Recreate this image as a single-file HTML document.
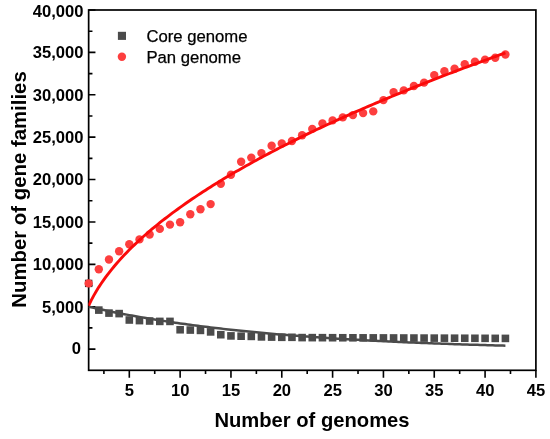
<!DOCTYPE html>
<html><head><meta charset="utf-8"><title>Pan and core genome</title>
<style>
html,body{margin:0;padding:0;background:#fff;}
svg{display:block;font-family:"Liberation Sans",Arial,sans-serif;}
.tk{font-size:16.6px;font-weight:bold;fill:#000;}
.ttl{font-size:20.2px;font-weight:bold;fill:#000;}
.lg{font-size:16.7px;fill:#000;stroke:#000;stroke-width:0.25px;}
</style></head><body>
<svg width="550" height="439" viewBox="0 0 550 439">
<rect width="550" height="439" fill="#ffffff"/>
<rect x="88.65" y="10.0" width="447.25" height="360.30" fill="none" stroke="#000" stroke-width="1.7"/>
<path d="M88.65 349.11h6.8M88.65 306.72h6.8M88.65 264.33h6.8M88.65 221.94h6.8M88.65 179.55h6.8M88.65 137.16h6.8M88.65 94.78h6.8M88.65 52.39h6.8M88.65 10.00h6.8M88.65 327.91h3.8M88.65 285.52h3.8M88.65 243.14h3.8M88.65 200.75h3.8M88.65 158.36h3.8M88.65 115.97h3.8M88.65 73.58h3.8M88.65 31.19h3.8M129.31 370.3v7.4M180.13 370.3v7.4M230.96 370.3v7.4M281.78 370.3v7.4M332.60 370.3v7.4M383.43 370.3v7.4M434.25 370.3v7.4M485.08 370.3v7.4M535.90 370.3v7.4M103.90 370.3v3.8M154.72 370.3v3.8M205.54 370.3v3.8M256.37 370.3v3.8M307.19 370.3v3.8M358.02 370.3v3.8M408.84 370.3v3.8M459.66 370.3v3.8M510.49 370.3v3.8" stroke="#000" stroke-width="1.6" fill="none"/>
<text class="tk" x="81.0" y="354.11" text-anchor="end">0</text>
<text class="tk" x="83.5" y="312.62" text-anchor="end">5,000</text>
<text class="tk" x="83.5" y="270.23" text-anchor="end">10,000</text>
<text class="tk" x="83.5" y="227.84" text-anchor="end">15,000</text>
<text class="tk" x="83.5" y="185.45" text-anchor="end">20,000</text>
<text class="tk" x="83.5" y="143.06" text-anchor="end">25,000</text>
<text class="tk" x="83.5" y="100.68" text-anchor="end">30,000</text>
<text class="tk" x="83.5" y="58.29" text-anchor="end">35,000</text>
<text class="tk" x="83.5" y="16.80" text-anchor="end">40,000</text>
<text class="tk" x="129.41" y="395.8" text-anchor="middle">5</text>
<text class="tk" x="180.23" y="395.8" text-anchor="middle">10</text>
<text class="tk" x="231.06" y="395.8" text-anchor="middle">15</text>
<text class="tk" x="281.88" y="395.8" text-anchor="middle">20</text>
<text class="tk" x="332.70" y="395.8" text-anchor="middle">25</text>
<text class="tk" x="383.53" y="395.8" text-anchor="middle">30</text>
<text class="tk" x="434.35" y="395.8" text-anchor="middle">35</text>
<text class="tk" x="485.18" y="395.8" text-anchor="middle">40</text>
<text class="tk" x="536.00" y="395.8" text-anchor="middle">45</text>
<text class="ttl" x="312" y="427.2" text-anchor="middle">Number of genomes</text>
<text class="ttl" style="font-size:20.38px" transform="translate(25.6 189.5) rotate(-90)" text-anchor="middle">Number of gene families</text>
<clipPath id="cp"><rect x="88.35000000000001" y="0" width="470" height="439"/></clipPath>
<g fill="#4b4b4b">
<rect x="95.01" y="306.30" width="7.6" height="7.6"/><rect x="105.18" y="309.30" width="7.6" height="7.6"/><rect x="115.34" y="309.80" width="7.6" height="7.6"/><rect x="125.51" y="316.20" width="7.6" height="7.6"/><rect x="135.67" y="316.80" width="7.6" height="7.6"/><rect x="145.84" y="317.20" width="7.6" height="7.6"/><rect x="156.00" y="317.60" width="7.6" height="7.6"/><rect x="166.17" y="317.60" width="7.6" height="7.6"/><rect x="176.33" y="325.95" width="7.6" height="7.6"/><rect x="186.50" y="326.25" width="7.6" height="7.6"/><rect x="196.66" y="326.60" width="7.6" height="7.6"/><rect x="206.83" y="328.10" width="7.6" height="7.6"/><rect x="216.99" y="330.90" width="7.6" height="7.6"/><rect x="227.16" y="332.10" width="7.6" height="7.6"/><rect x="237.32" y="332.40" width="7.6" height="7.6"/><rect x="247.49" y="332.60" width="7.6" height="7.6"/><rect x="257.65" y="333.10" width="7.6" height="7.6"/><rect x="267.82" y="333.30" width="7.6" height="7.6"/><rect x="277.98" y="333.50" width="7.6" height="7.6"/><rect x="288.15" y="333.50" width="7.6" height="7.6"/><rect x="298.31" y="333.80" width="7.6" height="7.6"/><rect x="308.47" y="333.84" width="7.6" height="7.6"/><rect x="318.64" y="333.88" width="7.6" height="7.6"/><rect x="328.80" y="333.92" width="7.6" height="7.6"/><rect x="338.97" y="333.96" width="7.6" height="7.6"/><rect x="349.13" y="334.00" width="7.6" height="7.6"/><rect x="359.30" y="334.04" width="7.6" height="7.6"/><rect x="369.46" y="334.08" width="7.6" height="7.6"/><rect x="379.63" y="334.12" width="7.6" height="7.6"/><rect x="389.79" y="334.16" width="7.6" height="7.6"/><rect x="399.96" y="334.20" width="7.6" height="7.6"/><rect x="410.12" y="334.24" width="7.6" height="7.6"/><rect x="420.29" y="334.28" width="7.6" height="7.6"/><rect x="430.45" y="334.32" width="7.6" height="7.6"/><rect x="440.62" y="334.36" width="7.6" height="7.6"/><rect x="450.78" y="334.40" width="7.6" height="7.6"/><rect x="460.95" y="334.44" width="7.6" height="7.6"/><rect x="471.11" y="334.48" width="7.6" height="7.6"/><rect x="481.28" y="334.52" width="7.6" height="7.6"/><rect x="491.44" y="334.56" width="7.6" height="7.6"/><rect x="501.61" y="334.60" width="7.6" height="7.6"/>
</g>
<path d="M88.65 306.73L91.19 307.30L93.73 307.88L96.27 308.44L98.81 308.99L101.36 309.54L103.90 310.08L106.44 310.62L108.98 311.14L111.52 311.66L114.06 312.18L116.60 312.68L119.14 313.18L121.69 313.68L124.23 314.16L126.77 314.64L129.31 315.12L131.85 315.58L134.39 316.05L136.93 316.50L139.47 316.95L142.02 317.39L144.56 317.83L147.10 318.26L149.64 318.69L152.18 319.11L154.72 319.53L157.26 319.93L159.80 320.34L162.34 320.74L164.89 321.13L167.43 321.52L169.97 321.90L172.51 322.28L175.05 322.66L177.59 323.02L180.13 323.39L182.67 323.75L185.22 324.10L187.76 324.45L190.30 324.79L192.84 325.13L195.38 325.47L197.92 325.80L200.46 326.13L203.00 326.45L205.54 326.77L208.09 327.08L210.63 327.39L213.17 327.70L215.71 328.00L218.25 328.30L220.79 328.59L223.33 328.88L225.87 329.17L228.42 329.45L230.96 329.73L233.50 330.01L236.04 330.28L238.58 330.55L241.12 330.81L243.66 331.07L246.20 331.33L248.75 331.59L251.29 331.84L253.83 332.08L256.37 332.33L258.91 332.57L261.45 332.81L263.99 333.04L266.53 333.27L269.07 333.50L271.62 333.73L274.16 333.95L276.70 334.17L279.24 334.39L281.78 334.60L284.32 334.81L286.86 335.02L289.40 335.23L291.95 335.43L294.49 335.63L297.03 335.83L299.57 336.02L302.11 336.22L304.65 336.41L307.19 336.59L309.73 336.78L312.27 336.96L314.82 337.14L317.36 337.32L319.90 337.49L322.44 337.67L324.98 337.84L327.52 338.01L330.06 338.17L332.60 338.34L335.15 338.50L337.69 338.66L340.23 338.82L342.77 338.97L345.31 339.13L347.85 339.28L350.39 339.43L352.93 339.58L355.48 339.72L358.02 339.87L360.56 340.01L363.10 340.15L365.64 340.29L368.18 340.42L370.72 340.56L373.26 340.69L375.80 340.82L378.35 340.95L380.89 341.08L383.43 341.20L385.97 341.33L388.51 341.45L391.05 341.57L393.59 341.69L396.13 341.81L398.68 341.93L401.22 342.04L403.76 342.15L406.30 342.27L408.84 342.38L411.38 342.48L413.92 342.59L416.46 342.70L419.01 342.80L421.55 342.91L424.09 343.01L426.63 343.11L429.17 343.21L431.71 343.31L434.25 343.40L436.79 343.50L439.33 343.59L441.88 343.68L444.42 343.78L446.96 343.87L449.50 343.96L452.04 344.04L454.58 344.13L457.12 344.22L459.66 344.30L462.21 344.39L464.75 344.47L467.29 344.55L469.83 344.63L472.37 344.71L474.91 344.79L477.45 344.86L479.99 344.94L482.53 345.02L485.08 345.09L487.62 345.16L490.16 345.23L492.70 345.31L495.24 345.38L497.78 345.45L500.32 345.51L502.86 345.58L505.41 345.65" clip-path="url(#cp)" fill="none" stroke="#4b4b4b" stroke-width="2.5" stroke-linecap="butt"/>
<rect x="84.95" y="279.70" width="7.4" height="7.4" fill="#2a2a2a"/>
<g fill="#fd3e3e">
<circle cx="88.65" cy="283.4" r="4.2"/><circle cx="98.81" cy="269.2" r="4.2"/><circle cx="108.98" cy="259.5" r="4.2"/><circle cx="119.14" cy="251.3" r="4.2"/><circle cx="129.31" cy="244.2" r="4.2"/><circle cx="139.47" cy="239.4" r="4.2"/><circle cx="149.64" cy="234.5" r="4.2"/><circle cx="159.80" cy="228.9" r="4.2"/><circle cx="169.97" cy="224.6" r="4.2"/><circle cx="180.13" cy="222.2" r="4.2"/><circle cx="190.30" cy="214.2" r="4.2"/><circle cx="200.46" cy="209.3" r="4.2"/><circle cx="210.63" cy="204.1" r="4.2"/><circle cx="220.79" cy="183.8" r="4.2"/><circle cx="230.96" cy="174.7" r="4.2"/><circle cx="241.12" cy="161.8" r="4.2"/><circle cx="251.29" cy="157.6" r="4.2"/><circle cx="261.45" cy="153.1" r="4.2"/><circle cx="271.62" cy="145.8" r="4.2"/><circle cx="281.78" cy="143.5" r="4.2"/><circle cx="291.95" cy="141" r="4.2"/><circle cx="302.11" cy="135.2" r="4.2"/><circle cx="312.27" cy="128.9" r="4.2"/><circle cx="322.44" cy="123.4" r="4.2"/><circle cx="332.60" cy="120.4" r="4.2"/><circle cx="342.77" cy="117.4" r="4.2"/><circle cx="352.93" cy="115.1" r="4.2"/><circle cx="363.10" cy="113.1" r="4.2"/><circle cx="373.26" cy="111.4" r="4.2"/><circle cx="383.43" cy="100.1" r="4.2"/><circle cx="393.59" cy="92.1" r="4.2"/><circle cx="403.76" cy="90.4" r="4.2"/><circle cx="413.92" cy="86" r="4.2"/><circle cx="424.09" cy="82.6" r="4.2"/><circle cx="434.25" cy="75.1" r="4.2"/><circle cx="444.42" cy="71.3" r="4.2"/><circle cx="454.58" cy="68.8" r="4.2"/><circle cx="464.75" cy="64.3" r="4.2"/><circle cx="474.91" cy="61.8" r="4.2"/><circle cx="485.08" cy="59.6" r="4.2"/><circle cx="495.24" cy="57.8" r="4.2"/><circle cx="505.41" cy="54.5" r="4.2"/>
</g>
<path d="M88.65 305.69L91.19 300.41L93.73 295.63L96.27 291.22L98.81 287.11L101.36 283.25L103.90 279.58L106.44 276.10L108.98 272.76L111.52 269.55L114.06 266.47L116.60 263.48L119.14 260.60L121.69 257.80L124.23 255.08L126.77 252.43L129.31 249.85L131.85 247.33L134.39 244.87L136.93 242.46L139.47 240.10L142.02 237.79L144.56 235.53L147.10 233.30L149.64 231.12L152.18 228.97L154.72 226.86L157.26 224.79L159.80 222.74L162.34 220.73L164.89 218.74L167.43 216.79L169.97 214.86L172.51 212.96L175.05 211.08L177.59 209.22L180.13 207.39L182.67 205.58L185.22 203.80L187.76 202.03L190.30 200.28L192.84 198.55L195.38 196.84L197.92 195.15L200.46 193.48L203.00 191.82L205.54 190.18L208.09 188.56L210.63 186.95L213.17 185.35L215.71 183.77L218.25 182.21L220.79 180.65L223.33 179.11L225.87 177.59L228.42 176.08L230.96 174.58L233.50 173.09L236.04 171.61L238.58 170.15L241.12 168.69L243.66 167.25L246.20 165.82L248.75 164.40L251.29 162.98L253.83 161.58L256.37 160.19L258.91 158.81L261.45 157.44L263.99 156.08L266.53 154.72L269.07 153.38L271.62 152.04L274.16 150.71L276.70 149.39L279.24 148.08L281.78 146.78L284.32 145.48L286.86 144.20L289.40 142.92L291.95 141.64L294.49 140.38L297.03 139.12L299.57 137.87L302.11 136.63L304.65 135.39L307.19 134.16L309.73 132.93L312.27 131.72L314.82 130.51L317.36 129.30L319.90 128.10L322.44 126.91L324.98 125.73L327.52 124.55L330.06 123.37L332.60 122.20L335.15 121.04L337.69 119.88L340.23 118.73L342.77 117.59L345.31 116.44L347.85 115.31L350.39 114.18L352.93 113.05L355.48 111.93L358.02 110.82L360.56 109.71L363.10 108.60L365.64 107.50L368.18 106.40L370.72 105.31L373.26 104.23L375.80 103.14L378.35 102.07L380.89 100.99L383.43 99.92L385.97 98.86L388.51 97.80L391.05 96.74L393.59 95.69L396.13 94.64L398.68 93.60L401.22 92.56L403.76 91.52L406.30 90.49L408.84 89.46L411.38 88.44L413.92 87.42L416.46 86.40L419.01 85.39L421.55 84.38L424.09 83.38L426.63 82.37L429.17 81.38L431.71 80.38L434.25 79.39L436.79 78.40L439.33 77.42L441.88 76.44L444.42 75.46L446.96 74.48L449.50 73.51L452.04 72.54L454.58 71.58L457.12 70.62L459.66 69.66L462.21 68.70L464.75 67.75L467.29 66.80L469.83 65.85L472.37 64.91L474.91 63.97L477.45 63.03L479.99 62.10L482.53 61.17L485.08 60.24L487.62 59.31L490.16 58.39L492.70 57.47L495.24 56.55L497.78 55.63L500.32 54.72L502.86 53.81L505.41 52.91" clip-path="url(#cp)" fill="none" stroke="#fb0a0a" stroke-width="2.9" stroke-linecap="butt"/>
<rect x="117.9" y="31.8" width="8.1" height="8.1" fill="#4b4b4b"/>
<circle cx="121.9" cy="56.8" r="4.2" fill="#fd3e3e"/>
<text class="lg" x="146.4" y="42.1">Core genome</text>
<text class="lg" x="146.4" y="63.1">Pan genome</text>
</svg>
</body></html>
